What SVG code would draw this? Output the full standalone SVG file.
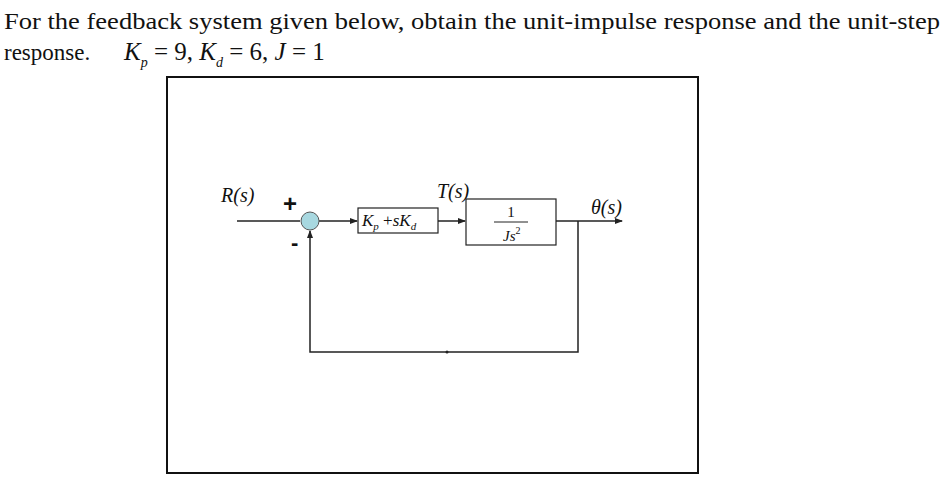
<svg xmlns="http://www.w3.org/2000/svg" width="945" height="481" viewBox="0 0 945 481">
<style>
.t{font-family:"Liberation Serif","Times New Roman",Times,serif;fill:#111}
.ln{stroke:#222;stroke-width:1.5;fill:none}
.bx{stroke:#222;stroke-width:1.2;fill:#fff}
</style>
<defs><marker id="a" markerWidth="8" markerHeight="6" refX="7" refY="3" orient="auto" markerUnits="userSpaceOnUse"><path d="M0,0L8,3L0,6z" fill="#222"/></marker></defs>
<rect width="945" height="481" fill="#fff"/>
<text class="t" x="4" y="29" font-size="23" textLength="936" lengthAdjust="spacingAndGlyphs">For the feedback system given below, obtain the unit-impulse response and the unit-step</text>
<text class="t" x="4" y="60" font-size="23">response.</text>
<text class="t" x="124" y="60" font-size="25"><tspan font-style="italic">K</tspan><tspan font-style="italic" font-size="14" dy="7">p</tspan><tspan dy="-7"> = 9, </tspan><tspan font-style="italic">K</tspan><tspan font-style="italic" font-size="14" dy="7">d</tspan><tspan dy="-7"> = 6, </tspan><tspan font-style="italic">J</tspan> = 1</text>
<rect x="167" y="77" width="531" height="396" fill="none" stroke="#111" stroke-width="2"/>
<g id="connectors">
<line class="ln" x1="237" y1="221" x2="300" y2="221"/>
<line class="ln" x1="319" y1="221" x2="357" y2="221" marker-end="url(#a)"/>
<line class="ln" x1="438" y1="221" x2="465" y2="221" marker-end="url(#a)"/>
<line class="ln" x1="556" y1="221" x2="622" y2="221" marker-end="url(#a)"/>
<polyline class="ln" points="578,221 578,352 310,352 310,231" marker-end="url(#a)"/>
<circle cx="447" cy="352" r="1.5" fill="#222"/>
</g>
<g id="sum"><circle cx="310" cy="221" r="9" fill="#a8d8e0" stroke="#555" stroke-width="1"/>
<text x="283" y="212" font-size="24" font-family="Liberation Sans,sans-serif" font-weight="bold" fill="#111">+</text>
<text x="291" y="250" font-size="22" font-family="Liberation Sans,sans-serif" font-weight="bold" fill="#111">-</text></g>
<g id="labels">
<text class="t" x="221" y="202" font-size="20" font-style="italic">R(s)</text>
<text class="t" x="437" y="198" font-size="20" font-style="italic">T(s)</text>
<text class="t" x="591" y="214" font-size="20" font-style="italic">θ(s)</text>
</g>
<g id="ctrl"><rect class="bx" x="358" y="208" width="80" height="25"/>
<text class="t" x="362" y="226" font-size="17" font-style="italic">K<tspan font-size="11" dy="4">p</tspan><tspan dy="-4" font-style="normal"> +</tspan>sK<tspan font-size="11" dy="4">d</tspan></text></g>
<g id="plant"><rect class="bx" x="466" y="199" width="90" height="46"/>
<text class="t" x="511" y="217" font-size="15" text-anchor="middle">1</text>
<line x1="494" y1="222" x2="528" y2="222" stroke="#222" stroke-width="1"/>
<text class="t" x="503" y="241" font-size="15" font-style="italic">Js<tspan font-size="10" dy="-7" font-style="normal">2</tspan></text></g>
</svg>
